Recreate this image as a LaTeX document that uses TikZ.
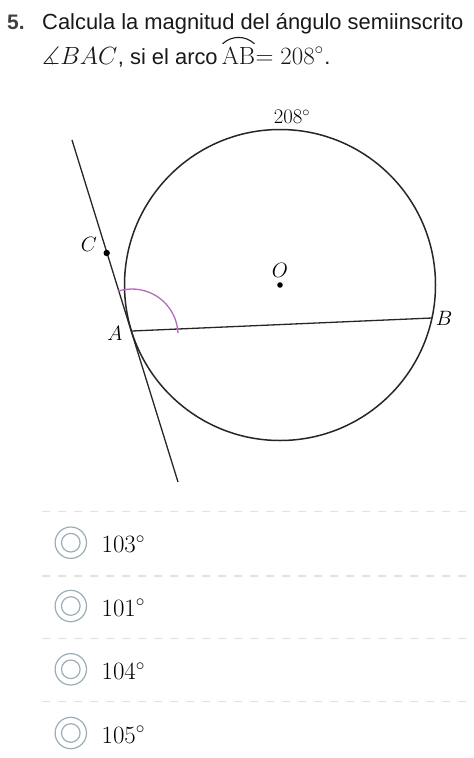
\documentclass[tikz,border=0pt]{standalone}
\usepackage{amssymb}
\usepackage[no-math]{fontspec}
\setmainfont{Liberation Sans}
\begin{document}
\begin{tikzpicture}[x=1pt,y=-1pt,
  geo/.style={line width=1.5pt,black!85},
  lbl/.style={inner sep=0pt,font=\fontsize{22}{22}\selectfont},
  sep/.style={line width=1.4pt,black!12,dash pattern=on 8pt off 8pt},
  radio/.style={line width=1.2pt,draw=cyan!20!gray!80},
  ttl/.style={anchor=base west,inner sep=0pt,text=black!90,font=\fontsize{21.9}{22}\selectfont},
  mth/.style={anchor=base west,inner sep=0pt,text=black!90,font=\fontsize{25}{25}\selectfont},
  opt/.style={anchor=base west,inner sep=0pt,font=\fontsize{27}{27}\selectfont}]
\useasboundingbox (0,0) rectangle (474,758);
% title
\node[anchor=base west,inner sep=0pt,text=black!75,font=\fontsize{21}{21}\selectfont\bfseries] (num) at (7,29) {5.};
\node[ttl] (t1) at (42,29) {Calcula la magnitud del ángulo semiinscrito};
\node[mth] (t2a) at (42,64) {$\measuredangle BAC$};
\node[ttl] (t2b) at (t2a.base east) {, si el arco\,};
\node[mth] (t2c) at (t2b.base east) {$\mathrm{AB}$};
\node[mth] (t2d) at (t2c.base east) {$=208^\circ$};
\node[ttl] (t2e) at (t2d.base east) {.};
\draw[line width=1.1pt,black!90] ([shift={(1,-3)}]t2c.north west) .. controls +(9,-8.5) and +(-9,-8.5) .. ([shift={(-1,-3)}]t2c.north east);
% geometry
\coordinate (O) at (280,285);
\coordinate (A) at (132,331);
\coordinate (B) at (432,318);
\coordinate (C) at (106.7,253);
\coordinate (T1) at (72,140);
\coordinate (T2) at (178,482);
\draw[geo] (280,285) circle (155.5);
\draw[geo,line width=1.3pt] (T1) -- (T2);
\draw[geo,line width=1.3pt] (A) -- (B);
\draw[line width=1.3pt,color={rgb,255:red,185;green,105;blue,185}] ([shift={(2.5:46)}]A) arc[start angle=-2.5,end angle=-108,radius=46];
\fill (O) circle (2.8);
\fill (C) circle (3.2);
\node[lbl] (Ol) at (280,270) {$O$};
\node[lbl] (Cl) at (89,244) {$C$};
\node[lbl] (Al) at (115,333) {$A$};
\node[lbl] (Bl) at (444,318) {$B$};
\node[lbl] (arc) at (292,117) {$208^\circ$};
% options
\foreach \y in {511.7,576,638.3,701.7} \draw[sep] (42,\y) -- (474,\y);
\foreach \y/\v/\n in {542.7/103/a,606/101/b,669.3/104/c,733/105/d}{
  \draw[radio] (70.8,\y) circle (15.7);
  \draw[radio] (70.8,\y) circle (9.3);
  \node[opt] (opt\n) at (101.5,\y+10) {$\v^\circ$};
}
\end{tikzpicture}
\end{document}
